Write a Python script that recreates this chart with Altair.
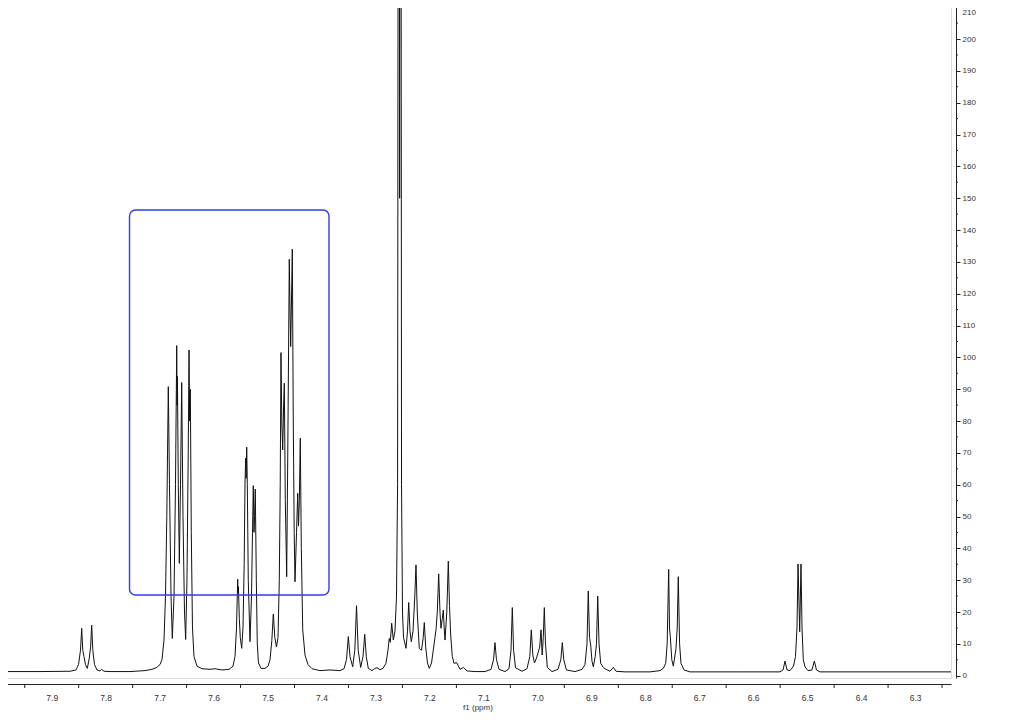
import altair as alt
import pandas as pd

# chemical shift (ppm) and intensity
ppm = [
    7.9884, 7.9217, 7.8661, 7.8550, 7.8503, 7.8466, 7.8444, 7.8424, 7.8401, 7.8374,
    7.8340, 7.8303, 7.8279, 7.8259, 7.8238, 7.8207, 7.8160, 7.8105, 7.8073, 7.8031,
    7.7920, 7.7549, 7.7271, 7.7141, 7.7054, 7.6993, 7.6956, 7.6919, 7.6891, 7.6867,
    7.6839, 7.6817, 7.6789, 7.6765, 7.6733, 7.6706, 7.6683, 7.6676, 7.6670, 7.6654,
    7.6635, 7.6613, 7.6591, 7.6567, 7.6539, 7.6517, 7.6493, 7.6470, 7.6455, 7.6444,
    7.6431, 7.6413, 7.6391, 7.6363, 7.6307, 7.6215, 7.6066, 7.5974, 7.5844, 7.5714,
    7.5640, 7.5603, 7.5575, 7.5553, 7.5547, 7.5540, 7.5523, 7.5505, 7.5479, 7.5455,
    7.5433, 7.5418, 7.5405, 7.5397, 7.5386, 7.5375, 7.5357, 7.5325, 7.5297, 7.5279,
    7.5264, 7.5251, 7.5240, 7.5227, 7.5208, 7.5190, 7.5168, 7.5121, 7.5047, 7.4991,
    7.4954, 7.4921, 7.4893, 7.4865, 7.4834, 7.4806, 7.4782, 7.4765, 7.4751, 7.4736,
    7.4719, 7.4702, 7.4689, 7.4671, 7.4645, 7.4625, 7.4597, 7.4584, 7.4571, 7.4556,
    7.4541, 7.4523, 7.4506, 7.4491, 7.4463, 7.4441, 7.4426, 7.4411, 7.4393, 7.4374,
    7.4348, 7.4306, 7.4250, 7.4176, 7.4028, 7.3842, 7.3657, 7.3583, 7.3537, 7.3503,
    7.3472, 7.3422, 7.3383, 7.3351, 7.3320, 7.3274, 7.3231, 7.3199, 7.3170, 7.3133,
    7.3064, 7.3009, 7.2972, 7.2916, 7.2860, 7.2805, 7.2768, 7.2744, 7.2725, 7.2699,
    7.2669, 7.2638, 7.2610, 7.2590, 7.2577, 7.2568, 7.2558, 7.2552, 7.2545, 7.2536,
    7.2527, 7.2517, 7.2499, 7.2480, 7.2434, 7.2406, 7.2384, 7.2360, 7.2336, 7.2304,
    7.2271, 7.2249, 7.2225, 7.2188, 7.2147, 7.2115, 7.2095, 7.2069, 7.2036, 7.2002,
    7.1961, 7.1928, 7.1897, 7.1878, 7.1854, 7.1828, 7.1804, 7.1786, 7.1761, 7.1743,
    7.1726, 7.1711, 7.1678, 7.1650, 7.1628, 7.1606, 7.1576, 7.1545, 7.1494, 7.1433,
    7.1372, 7.1303, 7.1155, 7.0970, 7.0859, 7.0812, 7.0785, 7.0757, 7.0710, 7.0599,
    7.0525, 7.0488, 7.0464, 7.0440, 7.0405, 7.0284, 7.0192, 7.0140, 7.0112, 7.0084,
    7.0053, 7.0016, 6.9956, 6.9932, 6.9910, 6.9890, 6.9871, 6.9849, 6.9815, 6.9728,
    6.9617, 6.9565, 6.9537, 6.9510, 6.9460, 6.9302, 6.9172, 6.9117, 6.9080, 6.9056,
    6.9033, 6.9011, 6.8987, 6.8963, 6.8928, 6.8904, 6.8881, 6.8857, 6.8826, 6.8778,
    6.8728, 6.8653, 6.8592, 6.8542, 6.8375, 6.7912, 6.7727, 6.7666, 6.7621, 6.7594,
    6.7566, 6.7551, 6.7536, 6.7508, 6.7480, 6.7430, 6.7408, 6.7388, 6.7364, 6.7338,
    6.7282, 6.7171, 6.6244, 6.5503, 6.5447, 6.5410, 6.5373, 6.5317, 6.5253, 6.5216,
    6.5188, 6.5169, 6.5138, 6.5114, 6.5095, 6.5071, 6.5040, 6.4984, 6.4910, 6.4867,
    6.4827, 6.4762, 6.2334,
]
intensity = [
    1.3, 1.3, 1.4, 1.8, 3.5, 8.0, 14.9, 8.0, 6.0, 3.5,
    2.3, 5.6, 9.0, 15.9, 8.0, 3.5, 1.8, 1.5, 2.0, 1.4,
    1.3, 1.3, 1.6, 2.0, 2.6, 3.5, 5.0, 11.2, 25.0, 50.0,
    90.8, 60.0, 25.0, 11.7, 25.0, 60.0, 103.7, 85.0, 94.0, 60.0,
    35.3, 60.0, 92.1, 50.0, 20.0, 11.4, 30.0, 70.0, 102.3, 80.0,
    90.0, 45.0, 15.0, 6.0, 3.0, 2.2, 2.0, 2.2, 1.8, 2.0,
    3.0, 6.0, 15.0, 30.3, 26.0, 28.0, 18.0, 12.0, 8.6, 15.0,
    35.0, 60.5, 68.3, 62.0, 71.8, 60.0, 30.0, 10.7, 25.0, 45.0,
    59.7, 45.0, 50.0, 58.6, 30.0, 10.0, 4.0, 2.3, 2.3, 3.0,
    5.0, 11.0, 19.4, 12.0, 9.0, 12.0, 30.0, 60.0, 101.5, 80.0,
    70.9, 85.0, 91.9, 55.0, 31.1, 70.0, 130.8, 115.0, 103.4, 118.0,
    134.0, 80.0, 45.0, 29.5, 45.0, 57.3, 47.0, 55.0, 74.6, 40.0,
    14.4, 6.5, 3.5, 2.2, 1.6, 1.8, 1.6, 2.2, 5.0, 12.3,
    6.0, 2.8, 8.0, 22.0, 8.0, 2.6, 6.0, 13.0, 6.0, 2.3,
    1.6, 2.3, 2.5, 1.9, 2.3, 3.9, 8.0, 11.7, 10.5, 16.5,
    11.2, 14.0, 25.0, 60.0, 300.0, 3000.0, 300.0, 150.0, 300.0, 3000.0,
    300.0, 60.0, 20.0, 12.0, 8.6, 14.0, 23.0, 14.0, 10.7, 14.0,
    25.0, 34.8, 20.0, 8.6, 8.0, 12.0, 16.7, 9.0, 4.0, 2.3,
    4.0, 8.1, 12.0, 14.4, 20.0, 32.0, 20.0, 14.9, 18.0, 20.6,
    15.0, 11.2, 20.0, 36.0, 22.0, 12.8, 6.0, 3.9, 4.1, 2.0,
    2.6, 1.5, 1.3, 1.3, 2.0, 5.0, 10.4, 5.0, 2.0, 1.3,
    2.2, 8.0, 21.4, 8.0, 2.5, 1.4, 2.2, 6.0, 14.4, 6.5,
    4.0, 5.5, 9.0, 14.4, 6.5, 12.0, 21.4, 10.0, 2.6, 1.3,
    2.0, 5.0, 10.4, 5.0, 1.8, 1.3, 2.0, 3.5, 10.0, 26.6,
    12.0, 9.6, 4.5, 2.8, 6.0, 10.0, 25.0, 10.0, 3.9, 2.6,
    2.0, 1.4, 2.6, 1.4, 1.2, 1.2, 1.6, 2.3, 3.9, 10.0,
    33.4, 15.0, 12.3, 5.0, 3.0, 8.6, 15.0, 31.1, 10.0, 3.9,
    1.8, 1.2, 1.2, 1.2, 1.8, 4.6, 1.8, 1.6, 3.0, 6.0,
    15.0, 35.1, 13.8, 35.1, 15.0, 5.0, 2.8, 1.6, 1.8, 4.6,
    1.8, 1.2, 1.2,
]

# highlighted region (blue rounded box)
box_ppm = [7.7558, 7.3861]
box_int = [25.35, 146.3]

# axis ticks
x_major = [6.3, 6.4, 6.5, 6.6, 6.7, 6.8, 6.9, 7.0, 7.1, 7.2, 7.3, 7.4, 7.5, 7.6, 7.7, 7.8, 7.9]
x_minor = [6.25, 6.35, 6.45, 6.55, 6.65, 6.75, 6.85, 6.95, 7.05, 7.15, 7.25, 7.35,
           7.45, 7.55, 7.65, 7.75, 7.85, 7.95]
y_major = [0, 10, 20, 30, 40, 50, 60, 70, 80, 90, 100, 110, 120, 130, 140, 150,
           160, 170, 180, 190, 200, 210]
y_minor = [5, 15, 25, 35, 45, 55, 65, 75, 85, 95, 105, 115, 125, 135, 145, 155,
           165, 175, 185, 195, 205]

x_domain = [6.2334, 7.9884]
y_domain = [-0.72, 211.0]

W, H = 947, 674

spec = pd.DataFrame({"ppm": ppm, "intensity": intensity})
box = pd.DataFrame({"ppm": [box_ppm[0]], "ppm2": [box_ppm[1]],
                    "intensity": [box_int[0]], "intensity2": [box_int[1]]})
xmin_df = pd.DataFrame({"ppm": x_minor})
ymin_df = pd.DataFrame({"intensity": y_minor})

FONT = "Liberation Sans"
INK = "#222222"

xscale = alt.Scale(domain=x_domain, reverse=True, nice=False, zero=False)
yscale = alt.Scale(domain=y_domain, nice=False, zero=False)

xaxis = alt.Axis(values=x_major, orient="bottom", offset=6, format=".1f",
                 tickSize=0, labelPadding=9,
                 labelFont=FONT, labelFontSize=8.5, labelColor="#333333",
                 domainColor=INK, tickColor=INK,
                 title="f1 (ppm)", titleFont=FONT, titleFontSize=8,
                 titleFontWeight="normal", titleColor="#333333", titlePadding=2,
                 grid=False, labelFlush=False, labelOverlap=False)
yaxis = alt.Axis(values=y_major, orient="right", offset=5, format="d",
                 tickSize=4, labelPadding=2,
                 labelOffset={"condition": {"test": "datum.value === 210", "value": 5.5}, "value": 0},
                 labelFont=FONT, labelFontSize=8, labelColor="#333333",
                 domainColor=INK, tickColor=INK,
                 title=None, grid=False, labelFlush=False, labelOverlap=False)

X = alt.X("ppm:Q", scale=xscale, axis=xaxis)
Y = alt.Y("intensity:Q", scale=yscale, axis=yaxis)

line = alt.Chart(spec).mark_line(color="#111111", strokeWidth=1, clip=True).encode(
    x=X, y=Y,
)

rect = alt.Chart(box).mark_rect(filled=False, stroke="#2f3fe8", strokeWidth=1.4,
                                cornerRadius=6).encode(
    x=X, x2="ppm2:Q", y=Y, y2="intensity2:Q",
)

x_minor_ticks = alt.Chart(xmin_df).mark_rule(color=INK, strokeWidth=1).encode(
    x=X, y=alt.value(H + 6), y2=alt.value(H + 10),
)

y_minor_ticks = alt.Chart(ymin_df).mark_rule(color=INK, strokeWidth=1).encode(
    y=Y, x=alt.value(W + 5), x2=alt.value(W + 7),
)

chart = alt.layer(line, rect, x_minor_ticks, y_minor_ticks).properties(
    width=W, height=H,
    padding={"left": -4, "top": -4, "right": 5, "bottom": 0},
).configure_view(stroke="#dedede", strokeWidth=1.5).configure(background="white")

chart.save("out.html", embed_options={"renderer": "svg", "actions": False})
